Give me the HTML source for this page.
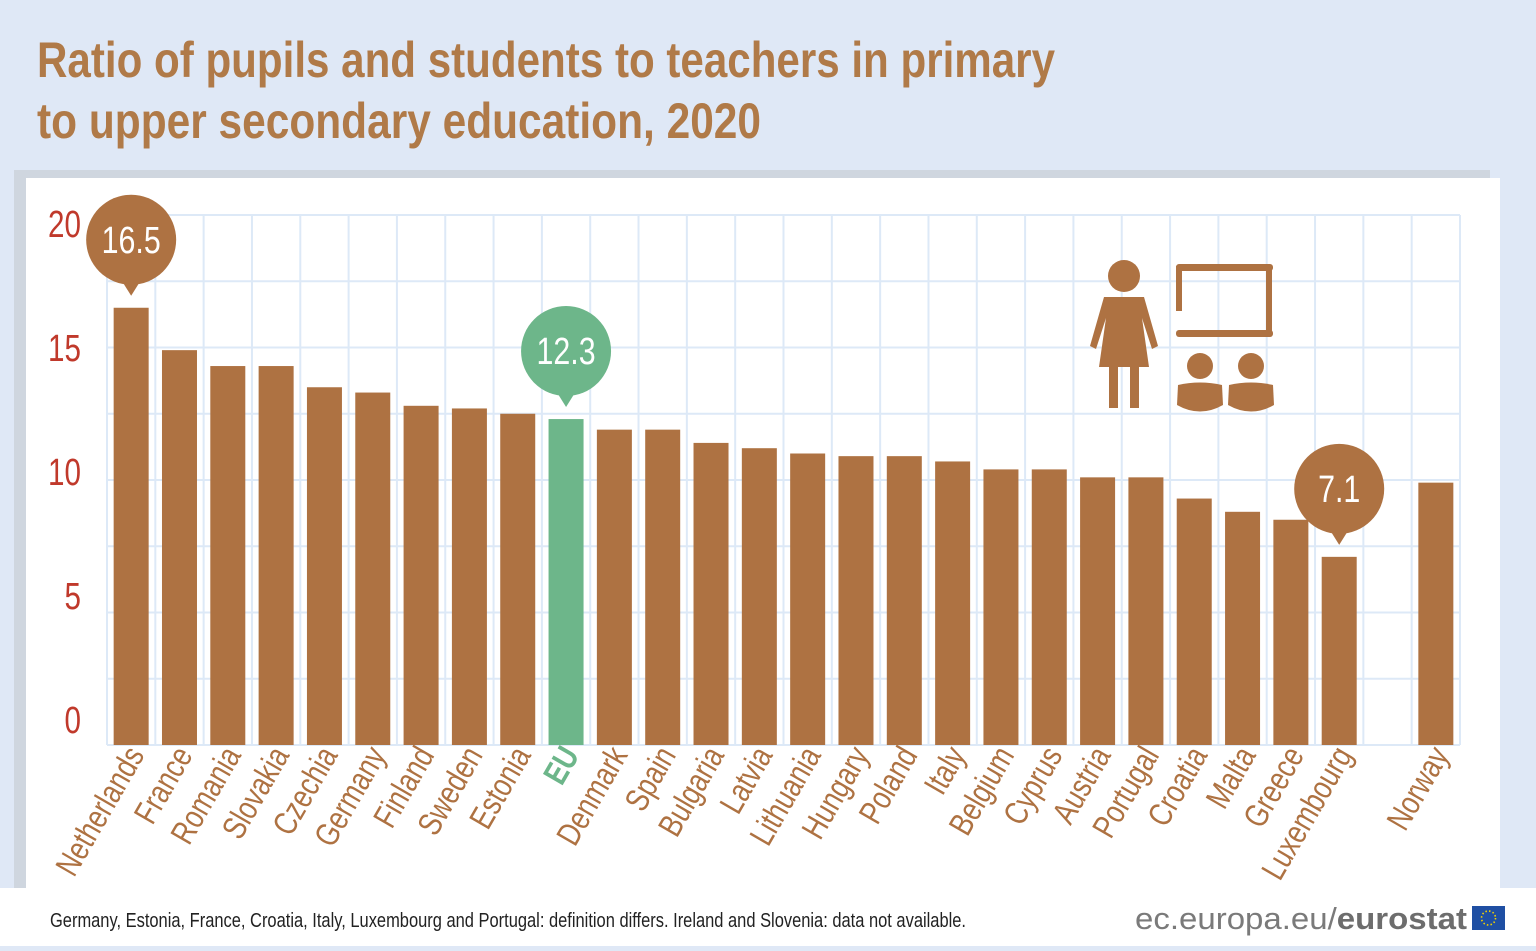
<!DOCTYPE html>
<html><head><meta charset="utf-8"><style>
html,body{margin:0;padding:0;background:#dfe8f6;}
svg{display:block;font-family:"Liberation Sans Narrow","Liberation Sans",sans-serif;}
</style></head><body>
<svg id="chart" width="1536" height="951" viewBox="0 0 1536 951" xmlns="http://www.w3.org/2000/svg">
<rect x="0" y="0" width="1536" height="951" fill="#dfe8f6"/>
<text x="37" y="77" font-size="50" font-weight="bold" fill="#b07a48" textLength="1018" lengthAdjust="spacingAndGlyphs">Ratio of pupils and students to teachers in primary</text>
<text x="37" y="138" font-size="50" font-weight="bold" fill="#b07a48" textLength="724" lengthAdjust="spacingAndGlyphs">to upper secondary education, 2020</text>
<rect x="14" y="170" width="1476" height="718" fill="#cfd6df"/>
<rect x="26" y="178" width="1474" height="710" fill="#ffffff"/>
<rect x="0" y="888" width="1536" height="58" fill="#ffffff"/>
<g id="grid"></g>
<g id="yticks"></g>
<g id="bars"></g>
<g id="xlabels"></g>
<g id="bubbles"></g>
<g fill="#ae7242">
<circle cx="1124" cy="276" r="16"/>
<path d="M1104 297 L1144 297 L1158 346 L1152 349 L1142 318 L1149 367 L1139 367 L1139 408 L1130 408 L1130 367 L1118 367 L1118 408 L1109 408 L1109 367 L1099 367 L1106 318 L1096 349 L1090 346 Z"/>
<rect x="1176" y="264" width="97" height="7" rx="3"/>
<rect x="1176" y="330" width="97" height="7" rx="3"/>
<rect x="1266" y="266" width="6" height="68"/>
<rect x="1176" y="266" width="6" height="45"/>
<circle cx="1200" cy="366" r="13"/>
<circle cx="1251" cy="366" r="13"/>
<path d="M1178 385 Q1200 380 1222 385 L1223 405 Q1200 418 1177 405 Z"/>
<path d="M1229 385 Q1251 380 1273 385 L1274 405 Q1251 418 1228 405 Z"/>
</g>
<text x="50" y="927" font-size="20" fill="#222" textLength="916" lengthAdjust="spacingAndGlyphs">Germany, Estonia, France, Croatia, Italy, Luxembourg and Portugal: definition differs. Ireland and Slovenia: data not available.</text>
<text x="1135" y="929" font-family="Liberation Sans, sans-serif" font-size="31" fill="#7a7a7a" textLength="332" lengthAdjust="spacingAndGlyphs">ec.europa.eu/<tspan font-weight="bold" fill="#6d6d6d">eurostat</tspan></text>
<g>
<rect x="1472" y="906" width="33" height="24" fill="#1f4fa3"/>
<circle cx="1488.5" cy="918" r="7" fill="none" stroke="#f5d200" stroke-width="1.6" stroke-dasharray="1.5 2.2"/>
</g>
</svg>
<script>
const categories = ["Netherlands","France","Romania","Slovakia","Czechia","Germany","Finland","Sweden","Estonia","EU","Denmark","Spain","Bulgaria","Latvia","Lithuania","Hungary","Poland","Italy","Belgium","Cyprus","Austria","Portugal","Croatia","Malta","Greece","Luxembourg","","Norway"];
const values = [16.5,14.9,14.3,14.3,13.5,13.3,12.8,12.7,12.5,12.3,11.9,11.9,11.4,11.2,11.0,10.9,10.9,10.7,10.4,10.4,10.1,10.1,9.3,8.8,8.5,7.1,null,9.9];
const yTicks = [0,5,10,15,20];
const callouts = ["Netherlands","EU","Luxembourg"];

const NS = "http://www.w3.org/2000/svg";
const X0 = 107, X1 = 1460, Y0 = 745, Y1 = 215, YMAX = 20;
const slot = (X1 - X0) / categories.length;
const y = v => Y0 - (v / YMAX) * (Y0 - Y1);
const yLab = v => 733 - (v / YMAX) * (733 - 237);
const xc = i => X0 + slot * (i + 0.5);
function mk(tag, attrs, parent) {
  const e = document.createElementNS(NS, tag);
  for (const k in attrs) e.setAttribute(k, attrs[k]);
  parent.appendChild(e);
  return e;
}
const grid = document.getElementById('grid');
for (let v = 0; v <= YMAX; v += 2.5) {
  const l = mk('line', {x1: X0, x2: X1, y1: y(v), y2: y(v), stroke: '#dde9f7', 'stroke-width': 2}, grid);
  
  
}
for (let i = 0; i <= categories.length; i++) {
  const x = X0 + slot * i;
  const l = mk('line', {x1: x, x2: x, y1: Y1, y2: Y0, stroke: '#dde9f7', 'stroke-width': 2}, grid);
  
  
}
const yt = document.getElementById('yticks');
yTicks.forEach(v => {
  const t = mk('text', {x: 0, y: 0, 'text-anchor': 'end', 'font-size': 38, fill: '#c0392b', transform: `translate(81,${yLab(v)}) scale(0.78,1)`}, yt);
  t.textContent = v;
  
  
});
const bars = document.getElementById('bars');
const xl = document.getElementById('xlabels');
categories.forEach((c, i) => {
  if (values[i] == null) return;
  const isEU = c === 'EU';
  const bw = 35;
  const r = mk('rect', {x: xc(i) - bw / 2, y: y(values[i]), width: bw, height: Y0 - y(values[i]), fill: isEU ? '#6db68a' : '#ae7242'}, bars);
  
  
  const t = mk('text', {x: 0, y: 0, 'text-anchor': 'end', 'font-size': 33, fill: isEU ? '#6db68a' : '#ae7242', 'font-weight': isEU ? 'bold' : 'normal', transform: `translate(${xc(i) + 14},${Y0 + 10}) rotate(-60) scale(0.8,1)`}, xl);
  t.textContent = c;
  
  
});
const bub = document.getElementById('bubbles');
callouts.forEach(c => {
  const i = categories.indexOf(c);
  const v = values[i];
  const col = c === 'EU' ? '#6db68a' : '#ae7242';
  const tipY = y(v) - 12;
  const cy = y(v) - 68;
  const g = mk('g', {}, bub);
  
  
  mk('circle', {cx: xc(i), cy: cy, r: 45, fill: col}, g);
  mk('path', {d: `M${xc(i) - 10} ${cy + 40} L${xc(i) + 10} ${cy + 40} L${xc(i)} ${tipY} Z`, fill: col}, g);
  const t = mk('text', {x: 0, y: 0, 'text-anchor': 'middle', 'font-size': 38, fill: '#fff', transform: `translate(${xc(i)},${cy + 13}) scale(0.8,1)`}, g);
  t.textContent = v.toFixed(1);
});
</script>
</body></html>
